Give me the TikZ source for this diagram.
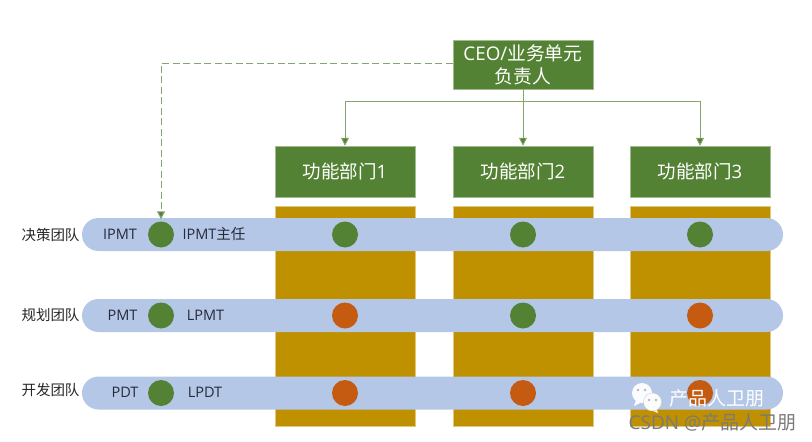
\documentclass[tikz,border=0pt]{standalone}
\usepackage{fontspec}
\setmainfont{Open Sans}
\newfontfamily\cjk{Noto Sans CJK SC}
\usetikzlibrary{arrows.meta,shadows}
\definecolor{boxgreen}{HTML}{548235}
\definecolor{gold}{HTML}{BF9000}
\definecolor{barblue}{HTML}{B4C7E7}
\definecolor{dotorange}{HTML}{C55A11}
\definecolor{inkdark}{HTML}{262B3A}
\definecolor{wmgray}{HTML}{7A7A7A}
\tikzset{
  softshadow/.style={drop shadow={shadow xshift=0.8pt,shadow yshift=-1pt,opacity=0.18,fill=black}},
  greenbox/.style={rectangle,fill=boxgreen,draw=boxgreen!55!white,line width=0.5pt,text=white,align=center,
    inner sep=0pt,minimum width=140pt,softshadow},
  dept/.style={greenbox,minimum height=51pt,font=\fontsize{18.5}{20}\selectfont},
  column/.style={rectangle,fill=gold,draw=gold!50!white,line width=0.4pt,inner sep=0pt,minimum width=140pt,minimum height=220pt,softshadow},
  bar/.style={rectangle,rounded corners=16.5pt,fill=barblue,inner sep=0pt,minimum width=701pt,minimum height=33pt},
  dot/.style={circle,inner sep=0pt,minimum size=26pt},
  gdot/.style={dot,fill=boxgreen},
  odot/.style={dot,fill=dotorange},
  team/.style={text=black!85,font=\cjk\fontsize{14.5}{16}\selectfont,inner sep=0pt},
  role/.style={text=inkdark,font=\fontsize{14.5}{16}\selectfont,inner sep=0pt},
  link/.style={draw=boxgreen!72!white,line width=0.9pt,-{Triangle[length=8pt,width=8pt,fill=boxgreen]}},
  dashlink/.style={link,line width=1pt,dash pattern=on 7pt off 3.5pt},
  bubble/.style={circle,inner sep=0pt,fill=white!95!barblue},
  eye/.style={circle,inner sep=0pt,minimum size=2.6pt,fill=wmgray!55},
}
\begin{document}
\begin{tikzpicture}[x=1pt,y=-1pt]
  \useasboundingbox (0,0) rectangle (812,442);

  % top boxes
  \node[greenbox,minimum height=49pt,font=\fontsize{18.8}{24}\selectfont] (ceo) at (523,64.5) {CEO/{\cjk 业务单元}\\[-1pt]{\cjk 负责人}};
  \node[dept] (d1) at (345,171.5) {{\cjk 功能部门}1};
  \node[dept] (d2) at (523,171.5) {{\cjk 功能部门}2};
  \node[dept] (d3) at (700,171.5) {{\cjk 功能部门}3};

  % gold columns
  \node[column] (g1) at (345,316) {};
  \node[column] (g2) at (523,316) {};
  \node[column] (g3) at (700,316) {};

  % team bars
  \node[bar] (b1) at (432.5,234.5) {};
  \node[bar] (b2) at (432.5,315.5) {};
  \node[bar] (b3) at (432.5,393) {};

  % dots
  \node[gdot] (l1) at (161,234.5) {};
  \node[gdot] (l2) at (161,315.5) {};
  \node[gdot] (l3) at (161,393) {};
  \node[gdot] (a1) at (345,234.5) {};
  \node[gdot] (a2) at (523,234.5) {};
  \node[gdot] (a3) at (700,234.5) {};
  \node[odot] (p1) at (345,315.5) {};
  \node[gdot] (p2) at (523,315.5) {};
  \node[odot] (p3) at (700,315.5) {};
  \node[odot] (q1) at (345,393) {};
  \node[odot] (q2) at (523,393) {};
  \node[odot] (q3) at (700,393) {};

  % connectors
  \coordinate (fork) at (523,101);
  \draw[link] (ceo.south) -- (d2.north);
  \draw[link] (fork) -| (d1.north);
  \draw[link] (fork) -| (d3.north);
  \draw[dashlink,shorten >=2pt] ([yshift=1pt]ceo.west) -| (l1.north);

  % team names
  \node[team] (t1) at (50.5,234.5) {决策团队};
  \node[team] (t2) at (50.5,315) {规划团队};
  \node[team] (t3) at (50.5,389.5) {开发团队};

  % role labels
  \node[role] (r1) at (120,234) {IPMT};
  \node[role] (r2) at (214,234) {IPMT{\cjk 主任}};
  \node[role] (r3) at (122.5,315) {PMT};
  \node[role] (r4) at (205.5,315) {LPMT};
  \node[role] (r5) at (125,392) {PDT};
  \node[role] (r6) at (205,392) {LPDT};

  % watermark
  \fill[white!95!barblue] (636,400) -- (634,406) -- (642,402) -- cycle;
  \fill[white!95!barblue] (656,408) -- (658,413) -- (651,410) -- cycle;
  \node[bubble,minimum size=20pt] (w1) at (642,393) {};
  \node[bubble,minimum size=18pt,draw=wmgray!35,line width=0.4pt] (w2) at (652.5,402) {};
  \node[eye] (e1) at (638,390) {};
  \node[eye] (e2) at (645,390) {};
  \node[eye] (e3) at (649,400) {};
  \node[eye] (e4) at (656,400) {};
  \node[inner sep=0pt,text=white,font=\cjk\fontsize{19}{21}\selectfont] (wm1) at (716.5,398) {产品人卫朋};
  \node[inner sep=0pt,text=wmgray,font=\fontsize{19}{21}\selectfont] (wm2) at (712.5,422) {CSDN @{\cjk 产品人卫朋}};
\end{tikzpicture}
\end{document}
